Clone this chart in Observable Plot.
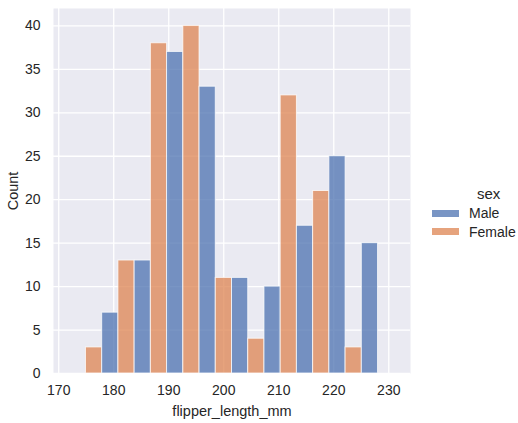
<!DOCTYPE html>
<html>
<head>
<meta charset="utf-8">
<script src="https://cdn.jsdelivr.net/npm/d3@7"></script>
<script src="https://cdn.jsdelivr.net/npm/@observablehq/plot@0.6"></script>
<style>
  body { margin: 0; background: white; }
  #wrap { position: relative; width: 518px; height: 423px; font-family: "Liberation Sans", Arial, sans-serif; color: #262626; }
  #legend { position: absolute; left: 432px; top: 185px; font-size: 14px; }
  #legend .title { font-size: 15px; margin-left: 45px; margin-bottom: 2px; }
  #legend .row { display: flex; align-items: center; height: 18.5px; }
  #legend .sw { width: 27px; height: 7px; margin-right: 10px; }
</style>
</head>
<body>
<div id="wrap">
  <div id="chart"></div>
  <div id="legend"></div>
</div>
<script>
// bordes de los bins (10 bins, de 172 a 231)
const binEdges = [172, 177.9, 183.8, 189.7, 195.6, 201.5, 207.4, 213.3, 219.2, 225.1, 231];
const maleCounts = [0, 7, 13, 37, 33, 11, 10, 17, 25, 15];
const femaleCounts = [3, 13, 38, 40, 11, 4, 32, 21, 3, 0];
const sexes = ["Male", "Female"];
const sexColors = ["#4c72b0", "#dd8452"];
const xTicks = [170, 180, 190, 200, 210, 220, 230];
const yTicks = [0, 5, 10, 15, 20, 25, 30, 35, 40];

// cada bin se parte en dos mitades (dodge): Male a la izquierda, Female a la derecha
const countsBySex = [maleCounts, femaleCounts];
const bars = [];
for (let i = 0; i < binEdges.length - 1; i++) {
  const lo = binEdges[i], hi = binEdges[i + 1], half = (hi - lo) / 2;
  sexes.forEach((sex, j) => {
    const count = countsBySex[j][i];
    if (count > 0) bars.push({ sex, x1: lo + j * half, x2: lo + (j + 1) * half, count });
  });
}

const chart = Plot.plot({
  width: 518,
  height: 423,
  marginLeft: 53,
  marginRight: 108,
  marginTop: 8,
  marginBottom: 50,
  style: { fontFamily: "Liberation Sans, Arial, sans-serif", fontSize: "14px", color: "#262626", background: "white" },
  x: { domain: [169.05, 233.95] },
  y: { domain: [0, 42] },
  color: { domain: sexes, range: sexColors },
  marks: [
    Plot.frame({ fill: "#eaeaf2", stroke: null }),
    Plot.gridX(xTicks, { stroke: "white", strokeOpacity: 1, strokeWidth: 1.3 }),
    Plot.gridY(yTicks, { stroke: "white", strokeOpacity: 1, strokeWidth: 1.3 }),
    Plot.rectY(bars, {
      x1: "x1", x2: "x2", y: "count", fill: "sex",
      fillOpacity: 0.75, stroke: "white", strokeWidth: 1, strokeOpacity: 0.75
    }),
    Plot.axisX(xTicks, {
      tickSize: 0, tickPadding: 12, fontSize: 14,
      label: "flipper_length_mm", labelAnchor: "center", labelArrow: "none", labelOffset: 42
    }),
    Plot.axisY(yTicks, {
      tickSize: 0, tickPadding: 13, fontSize: 14,
      label: "Count", labelAnchor: "center", labelArrow: "none", labelOffset: 46
    })
  ]
});

// títulos de ejes un poco más grandes que los ticks
d3.select(chart).selectAll('text')
  .filter(function () { return this.textContent === 'Count' || this.textContent === 'flipper_length_mm'; })
  .attr('font-size', 14.5).style('font-size', '14.5px');

d3.select('#chart').append(() => chart);

// leyenda a la derecha, como en seaborn
const legend = d3.select('#legend');
legend.append('div').attr('class', 'title').text('sex');
sexes.forEach((sex, j) => {
  const row = legend.append('div').attr('class', 'row');
  row.append('div').attr('class', 'sw').style('background', sexColors[j]).style('opacity', 0.75);
  row.append('span').text(sex);
});
</script>
</body>
</html>
